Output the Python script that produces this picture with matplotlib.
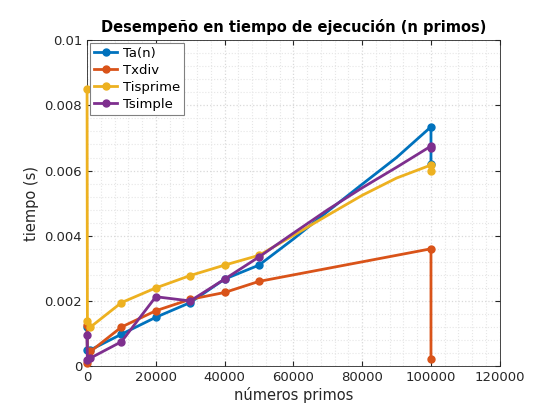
import numpy as np
import matplotlib.pyplot as plt
from matplotlib.ticker import MultipleLocator

# data
n = [0, 100, 1000, 10000, 20000, 30000, 40000, 50000,
     60000, 70000, 80000, 90000, 100000, 100000]
t_a = [0.0012, 0.0005, 0.0005, 0.00098, 0.0015, 0.00195, 0.00267, 0.0031,
       0.0039, 0.00475, 0.00558, 0.0064, 0.00734, 0.0062]
t_xdiv = [0.00125, 0.0001, 0.00045, 0.0012, 0.0017, 0.00205, 0.00226, 0.0026,
          0.0028, 0.0030, 0.0032, 0.0034, 0.0036, 0.00022]
t_isprime = [0.0085, 0.0014, 0.0012, 0.00195, 0.0024, 0.00278, 0.0031, 0.0034,
             0.00401, 0.00463, 0.00524, 0.00577, 0.00617, 0.00598]
t_simple = [0.00095, 0.0002, 0.00025, 0.00075, 0.00213, 0.002, 0.00267, 0.00335,
            0.00408, 0.0048, 0.00547, 0.0061, 0.00675, 0.0067]
labels = ["Ta(n)", "Txdiv", "Tisprime", "Tsimple"]
colors = ["#0072BD", "#D95319", "#EDB120", "#7E2F8E"]
xticks = [0, 20000, 40000, 60000, 80000, 100000, 120000]
yticks = [0, 0.002, 0.004, 0.006, 0.008, 0.01]
ytick_labels = ["0", "0.002", "0.004", "0.006", "0.008", "0.01"]

marked = [0, 1, 2, 3, 4, 5, 6, 7, 12, 13]

fig = plt.figure(figsize=(5.51, 4.18), dpi=100)
ax = fig.add_axes([0.158, 0.124, 0.749, 0.780])

for ys, lab, c in zip([t_a, t_xdiv, t_isprime, t_simple], labels, colors):
    ax.plot(n, ys, "-o", color=c, lw=2, ms=5, markevery=marked, label=lab,
            clip_on=False, zorder=3)

ax.set_xlim(0, 120000)
ax.set_ylim(0, 0.01)
ax.set_xticks(xticks)
ax.set_xticklabels([str(v) for v in xticks])
ax.set_yticks(yticks)
ax.set_yticklabels(ytick_labels)
ax.xaxis.set_minor_locator(MultipleLocator(4000))
ax.yaxis.set_minor_locator(MultipleLocator(0.0004))

ax.grid(which="major", color="#d9d9d9", ls=":", lw=0.9)
ax.grid(which="minor", color="#e6e6e6", ls=":", lw=0.8)
ax.set_axisbelow(True)
ax.tick_params(which="both", direction="in", top=True, right=True,
               colors="#262626", labelsize=9.5)
ax.tick_params(which="minor", length=0)
for s in ax.spines.values():
    s.set_color("#262626")
    s.set_linewidth(0.6)

ax.set_title("Desempeño en tiempo de ejecución (n primos)", fontsize=10.5,
             fontweight="bold", pad=6)
ax.set_xlabel("números primos", fontsize=10.5, color="#262626", labelpad=2)
ax.set_ylabel("tiempo (s)", fontsize=10.5, color="#262626", labelpad=4)

leg = ax.legend(loc="upper left", fontsize=9.5, handlelength=1.8,
                borderaxespad=0.2, fancybox=False, framealpha=1,
                edgecolor="#808080", borderpad=0.3, labelspacing=0.3,
                handletextpad=0.4)
leg.get_frame().set_linewidth(0.8)
leg.set_zorder(5)

fig.savefig("out.png", dpi=100)
